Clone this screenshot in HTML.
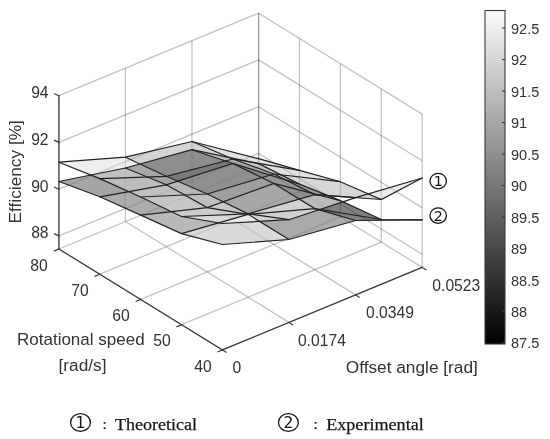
<!DOCTYPE html>
<html><head><meta charset="utf-8"><title>Efficiency surface</title>
<style>html,body{margin:0;padding:0;background:#fff}body{width:550px;height:439px;overflow:hidden}svg{display:block}</style></head>
<body>
<svg width="550" height="439" viewBox="0 0 550 439">
<defs><linearGradient id="cb" x1="0" y1="1" x2="0" y2="0"><stop offset="0" stop-color="#000"/><stop offset="1" stop-color="#fbfbfb"/></linearGradient></defs>
<rect width="550" height="439" fill="#fff"/>
<g stroke="#262626" stroke-opacity="0.28" stroke-width="1.25" fill="none">
<line x1="58.9" y1="249.0" x2="258.6" y2="166.5"/>
<line x1="99.8" y1="274.2" x2="299.5" y2="191.7"/>
<line x1="140.7" y1="299.4" x2="340.4" y2="216.9"/>
<line x1="181.5" y1="324.7" x2="381.3" y2="242.2"/>
<line x1="222.4" y1="349.9" x2="422.2" y2="267.4"/>
<line x1="58.9" y1="249.0" x2="222.4" y2="349.9"/>
<line x1="125.4" y1="221.5" x2="289.0" y2="322.4"/>
<line x1="192.0" y1="194.0" x2="355.6" y2="294.9"/>
<line x1="258.6" y1="166.5" x2="422.2" y2="267.4"/>
<line x1="58.9" y1="249.0" x2="58.9" y2="95.7"/>
<line x1="125.4" y1="221.5" x2="125.4" y2="68.2"/>
<line x1="192.0" y1="194.0" x2="192.0" y2="40.7"/>
<line x1="258.6" y1="166.5" x2="258.6" y2="13.2"/>
<line x1="58.9" y1="235.9" x2="258.6" y2="153.4"/>
<line x1="258.6" y1="153.4" x2="422.2" y2="254.3"/>
<line x1="58.9" y1="189.2" x2="258.6" y2="106.7"/>
<line x1="258.6" y1="106.7" x2="422.2" y2="207.6"/>
<line x1="58.9" y1="142.4" x2="258.6" y2="59.9"/>
<line x1="258.6" y1="59.9" x2="422.2" y2="160.8"/>
<line x1="58.9" y1="95.7" x2="258.6" y2="13.2"/>
<line x1="258.6" y1="13.2" x2="422.2" y2="114.1"/>
<line x1="258.6" y1="166.5" x2="258.6" y2="13.2"/>
<line x1="299.5" y1="191.7" x2="299.5" y2="38.4"/>
<line x1="340.4" y1="216.9" x2="340.4" y2="63.6"/>
<line x1="381.3" y1="242.2" x2="381.3" y2="88.9"/>
<line x1="422.2" y1="267.4" x2="422.2" y2="114.1"/>
</g>
<g stroke="none">
<polygon points="192.0,149.7 258.6,163.6 299.5,184.1 232.9,163.5" fill="rgb(178,178,178)" fill-opacity="0.65"/>
<polygon points="192.0,141.5 258.6,158.7 299.5,170.3 232.9,159.0" fill="rgb(195,195,195)" fill-opacity="0.5"/>
<polygon points="232.9,163.5 299.5,184.1 340.4,200.6 273.9,183.5" fill="rgb(78,78,78)" fill-opacity="0.65"/>
<polygon points="232.9,159.0 299.5,170.3 340.4,181.7 273.9,174.0" fill="rgb(195,195,195)" fill-opacity="0.5"/>
<polygon points="273.9,183.5 340.4,200.6 381.3,219.5 314.8,208.6" fill="rgb(62,62,62)" fill-opacity="0.65"/>
<polygon points="273.9,174.0 340.4,181.7 381.3,199.5 314.8,194.6" fill="rgb(175,175,175)" fill-opacity="0.5"/>
<polygon points="314.8,208.6 381.3,219.5 422.2,219.8 355.6,220.5" fill="rgb(62,62,62)" fill-opacity="0.65"/>
<polygon points="314.8,194.6 381.3,199.5 422.2,178.0 355.6,197.6" fill="rgb(215,215,215)" fill-opacity="0.5"/>
<polygon points="125.4,168.0 192.0,149.7 232.9,163.5 166.3,184.8" fill="rgb(39,39,39)" fill-opacity="0.65"/>
<polygon points="125.4,157.2 192.0,141.5 232.9,159.0 166.3,176.3" fill="rgb(170,170,170)" fill-opacity="0.5"/>
<polygon points="166.3,184.8 232.9,163.5 273.9,183.5 207.2,207.6" fill="rgb(108,108,108)" fill-opacity="0.65"/>
<polygon points="166.3,176.3 232.9,159.0 273.9,174.0 207.2,194.0" fill="rgb(130,130,130)" fill-opacity="0.5"/>
<polygon points="207.2,207.6 273.9,183.5 314.8,208.6 248.1,214.3" fill="rgb(131,131,131)" fill-opacity="0.65"/>
<polygon points="207.2,194.0 273.9,174.0 314.8,194.6 248.1,213.8" fill="rgb(160,160,160)" fill-opacity="0.5"/>
<polygon points="248.1,214.3 314.8,208.6 355.6,220.5 289.0,239.5" fill="rgb(124,124,124)" fill-opacity="0.65"/>
<polygon points="248.1,213.8 314.8,194.6 355.6,197.6 289.0,219.7" fill="rgb(245,245,245)" fill-opacity="0.5"/>
<polygon points="58.9,181.5 125.4,168.0 166.3,184.8 99.8,196.8" fill="rgb(116,116,116)" fill-opacity="0.65"/>
<polygon points="58.9,162.2 125.4,157.2 166.3,176.3 99.8,178.6" fill="rgb(221,221,221)" fill-opacity="0.5"/>
<polygon points="99.8,196.8 166.3,184.8 207.2,207.6 140.7,215.1" fill="rgb(128,128,128)" fill-opacity="0.65"/>
<polygon points="99.8,178.6 166.3,176.3 207.2,194.0 140.7,197.0" fill="rgb(211,211,211)" fill-opacity="0.5"/>
<polygon points="140.7,215.1 207.2,207.6 248.1,214.3 181.5,233.6" fill="rgb(148,148,148)" fill-opacity="0.65"/>
<polygon points="140.7,197.0 207.2,194.0 248.1,213.8 181.5,216.5" fill="rgb(225,225,225)" fill-opacity="0.5"/>
<polygon points="181.5,233.6 248.1,214.3 289.0,239.5 222.4,244.5" fill="rgb(198,198,198)" fill-opacity="0.65"/>
<polygon points="181.5,216.5 248.1,213.8 289.0,219.7 222.4,223.5" fill="rgb(250,250,250)" fill-opacity="0.5"/>
</g>
<g stroke="#222" stroke-width="1.2" stroke-linecap="round" fill="none">
<polyline points="58.9,181.5 125.4,168.0 192.0,149.7 258.6,163.6"/>
<polyline points="99.8,196.8 166.3,184.8 232.9,163.5 299.5,184.1"/>
<polyline points="140.7,215.1 207.2,207.6 273.9,183.5 340.4,200.6"/>
<polyline points="181.5,233.6 248.1,214.3 314.8,208.6 381.3,219.5"/>
<polyline points="222.4,244.5 289.0,239.5 355.6,220.5 422.2,219.8"/>
<polyline points="58.9,181.5 99.8,196.8 140.7,215.1 181.5,233.6 222.4,244.5"/>
<polyline points="125.4,168.0 166.3,184.8 207.2,207.6 248.1,214.3 289.0,239.5"/>
<polyline points="192.0,149.7 232.9,163.5 273.9,183.5 314.8,208.6 355.6,220.5"/>
<polyline points="258.6,163.6 299.5,184.1 340.4,200.6 381.3,219.5 422.2,219.8"/>
<polyline points="58.9,162.2 125.4,157.2 192.0,141.5 258.6,158.7"/>
<polyline points="99.8,178.6 166.3,176.3 232.9,159.0 299.5,170.3"/>
<polyline points="140.7,197.0 207.2,194.0 273.9,174.0 340.4,181.7"/>
<polyline points="181.5,216.5 248.1,213.8 314.8,194.6 381.3,199.5"/>
<polyline points="222.4,223.5 289.0,219.7 355.6,197.6 422.2,178.0"/>
<polyline points="58.9,162.2 99.8,178.6 140.7,197.0 181.5,216.5 222.4,223.5"/>
<polyline points="125.4,157.2 166.3,176.3 207.2,194.0 248.1,213.8 289.0,219.7"/>
<polyline points="192.0,141.5 232.9,159.0 273.9,174.0 314.8,194.6 355.6,197.6"/>
<polyline points="258.6,158.7 299.5,170.3 340.4,181.7 381.3,199.5 422.2,178.0"/>
</g>
<g stroke="#3a3a3a" stroke-width="1.2" fill="none" stroke-linecap="square">
<line x1="58.9" y1="249.0" x2="58.9" y2="95.7"/>
<line x1="58.9" y1="249.0" x2="222.4" y2="349.9"/>
<line x1="222.4" y1="349.9" x2="422.2" y2="267.4"/>
<line x1="58.9" y1="235.9" x2="54.6" y2="233.9"/>
<line x1="58.9" y1="189.2" x2="54.6" y2="187.2"/>
<line x1="58.9" y1="142.4" x2="54.6" y2="140.4"/>
<line x1="58.9" y1="95.7" x2="54.6" y2="93.7"/>
<line x1="58.9" y1="249.0" x2="54.4" y2="250.9"/>
<line x1="99.8" y1="274.2" x2="95.2" y2="276.1"/>
<line x1="140.7" y1="299.4" x2="136.2" y2="301.3"/>
<line x1="181.5" y1="324.7" x2="177.0" y2="326.6"/>
<line x1="222.4" y1="349.9" x2="217.9" y2="351.8"/>
<line x1="222.4" y1="349.9" x2="226.0" y2="352.2"/>
<line x1="289.0" y1="322.4" x2="292.6" y2="324.7"/>
<line x1="355.6" y1="294.9" x2="359.2" y2="297.2"/>
<line x1="422.2" y1="267.4" x2="425.9" y2="269.7"/>
</g>
<g font-family="'Liberation Sans', sans-serif" fill="#333" font-size="15.7">
<text x="48.6" y="98.2" text-anchor="end">94</text>
<text x="48.6" y="145.2" text-anchor="end">92</text>
<text x="48.6" y="191.8" text-anchor="end">90</text>
<text x="48.6" y="238.0" text-anchor="end">88</text>
<text x="39.0" y="270.8" text-anchor="middle">80</text>
<text x="80.0" y="296.0" text-anchor="middle">70</text>
<text x="121.1" y="321.2" text-anchor="middle">60</text>
<text x="162.1" y="346.4" text-anchor="middle">50</text>
<text x="203.1" y="371.6" text-anchor="middle">40</text>
<text x="232.5" y="373.4" text-anchor="start">0</text>
<text x="297.9" y="345.6" text-anchor="start">0.0174</text>
<text x="366.0" y="318.3" text-anchor="start">0.0349</text>
<text x="432.3" y="291.2" text-anchor="start">0.0523</text>
<g font-size="17.25">
<text x="80.8" y="344.6" text-anchor="middle" font-size="17">Rotational speed</text>
<text x="82.5" y="371.0" text-anchor="middle">[rad/s]</text>
<text x="411.8" y="373.0" text-anchor="middle">Offset angle [rad]</text>
<text transform="translate(21.4,171.8) rotate(-90)" text-anchor="middle">Efficiency [%]</text>
</g>
<g font-size="14.55">
<text x="511.0" y="348.4" text-anchor="start">87.5</text>
<text x="511.0" y="316.9" text-anchor="start">88</text>
<text x="511.0" y="285.5" text-anchor="start">88.5</text>
<text x="511.0" y="254.0" text-anchor="start">89</text>
<text x="511.0" y="222.5" text-anchor="start">89.5</text>
<text x="511.0" y="191.1" text-anchor="start">90</text>
<text x="511.0" y="159.6" text-anchor="start">90.5</text>
<text x="511.0" y="128.1" text-anchor="start">91</text>
<text x="511.0" y="96.6" text-anchor="start">91.5</text>
<text x="511.0" y="65.2" text-anchor="start">92</text>
<text x="511.0" y="33.7" text-anchor="start">92.5</text>
</g>
</g>
<rect x="485" y="10.5" width="20" height="333.5" fill="url(#cb)" stroke="#3a3a3a" stroke-width="1.1"/>
<g stroke="#3a3a3a" stroke-width="1.1">
<line x1="502" y1="342.8" x2="505" y2="342.8"/>
<line x1="502" y1="311.3" x2="505" y2="311.3"/>
<line x1="502" y1="279.9" x2="505" y2="279.9"/>
<line x1="502" y1="248.4" x2="505" y2="248.4"/>
<line x1="502" y1="216.9" x2="505" y2="216.9"/>
<line x1="502" y1="185.5" x2="505" y2="185.5"/>
<line x1="502" y1="154.0" x2="505" y2="154.0"/>
<line x1="502" y1="122.5" x2="505" y2="122.5"/>
<line x1="502" y1="91.0" x2="505" y2="91.0"/>
<line x1="502" y1="59.6" x2="505" y2="59.6"/>
<line x1="502" y1="28.1" x2="505" y2="28.1"/>
</g>
<ellipse cx="438.2" cy="181.1" rx="8.25" ry="7.75" fill="none" stroke="#151515" stroke-width="1.3"/>
<text x="438.2" y="186.3" text-anchor="middle" font-family="'DejaVu Sans', 'Liberation Sans', sans-serif" font-size="14.3" fill="#151515">1</text>
<ellipse cx="438.2" cy="215.6" rx="8.25" ry="7.75" fill="none" stroke="#151515" stroke-width="1.3"/>
<text x="438.2" y="220.8" text-anchor="middle" font-family="'DejaVu Sans', 'Liberation Sans', sans-serif" font-size="14.3" fill="#151515">2</text>
<ellipse cx="80.5" cy="422.5" rx="9.95" ry="8.85" fill="none" stroke="#151515" stroke-width="1.3"/>
<text x="80.5" y="428.1" text-anchor="middle" font-family="'DejaVu Sans', 'Liberation Sans', sans-serif" font-size="15.5" fill="#151515">1</text>
<ellipse cx="288.4" cy="422.5" rx="9.95" ry="8.85" fill="none" stroke="#151515" stroke-width="1.3"/>
<text x="288.4" y="428.1" text-anchor="middle" font-family="'DejaVu Sans', 'Liberation Sans', sans-serif" font-size="15.5" fill="#151515">2</text>
<g font-family="'Liberation Serif', serif" font-size="17.6" fill="#151515" stroke="#151515" stroke-width="0.25">
<text x="102.6" y="429.3" text-anchor="start" font-size="15.5">:</text>
<text x="114.9" y="429.6" text-anchor="start" textLength="82" lengthAdjust="spacingAndGlyphs">Theoretical</text>
<text x="313.5" y="429.3" text-anchor="start" font-size="15.5">:</text>
<text x="326.2" y="429.6" text-anchor="start" textLength="97.6" lengthAdjust="spacingAndGlyphs">Experimental</text>
</g>
</svg>
</body></html>
